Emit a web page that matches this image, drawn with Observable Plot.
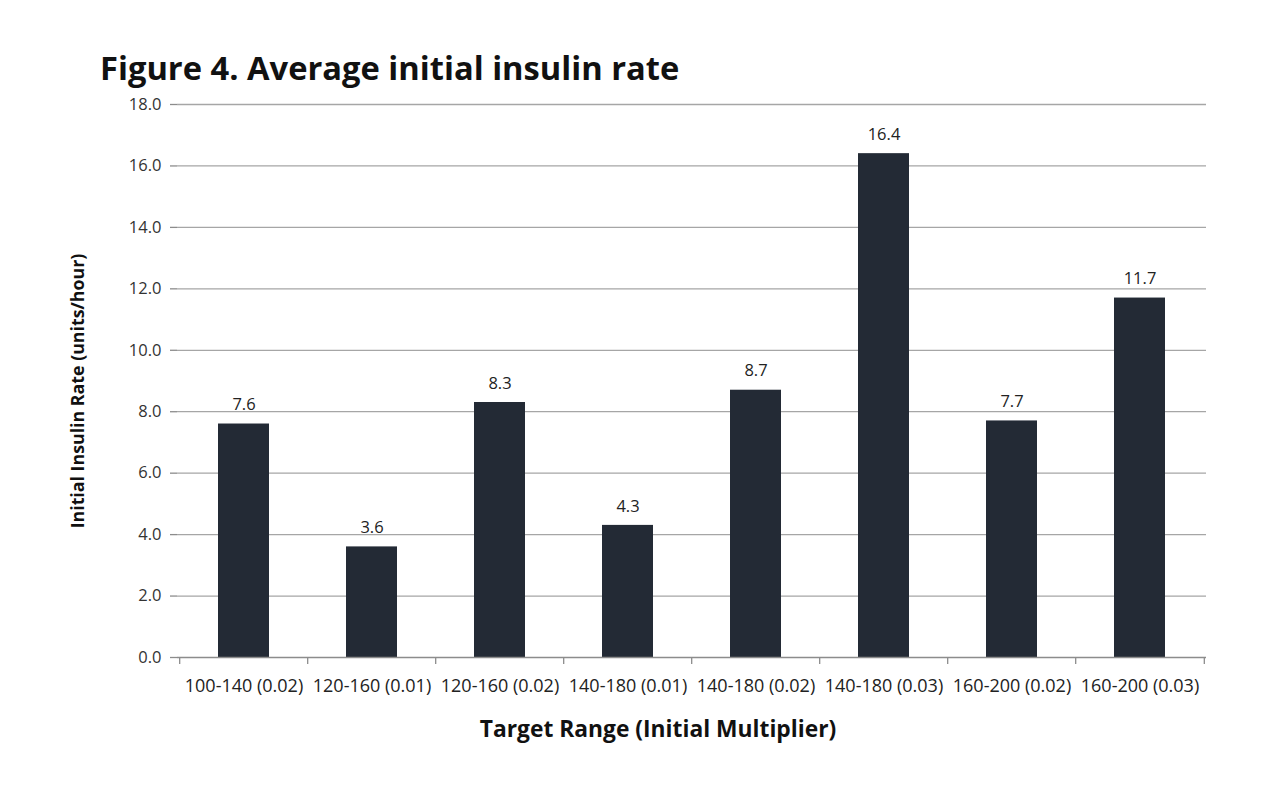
<!DOCTYPE html>
<html>
<head>
<meta charset="utf-8">
<script src="https://cdn.jsdelivr.net/npm/d3@7"></script>
<script src="https://cdn.jsdelivr.net/npm/@observablehq/plot@0.6"></script>
<style>
  body { margin: 0; background: #fff; font-family: "Open Sans", sans-serif; }
  #title { height: 85px; position: relative; }
  #title span { position: absolute; left: 100px; top: 45px; font-size: 32.7px; font-weight: bold; color: #111; white-space: nowrap; }
  svg { display: block; }
</style>
</head>
<body>
<div id="title"><span>Figure 4. Average initial insulin rate</span></div>
<div id="chart"></div>
<script>
const categories = ["100-140 (0.02)", "120-160 (0.01)", "120-160 (0.02)", "140-180 (0.01)", "140-180 (0.02)", "140-180 (0.03)", "160-200 (0.02)", "160-200 (0.03)"];
const values = [7.6, 3.6, 8.3, 4.3, 8.7, 16.4, 7.7, 11.7];
const yTicks = [0, 2, 4, 6, 8, 10, 12, 14, 16, 18];
const yLabel = "Initial Insulin Rate (units/hour)";
const xLabel = "Target Range (Initial Multiplier)";

const data = categories.map((c, i) => ({category: c, value: values[i]}));

const W = 1266, H = 714;
const mL = 177, mR = 60, mT = 19, mB = 142;
const step = (W - mL - mR) / categories.length;
const axisColor = "#8c8c8c";

const chart = Plot.plot({
  width: W, height: H,
  marginLeft: mL, marginRight: mR, marginTop: mT, marginBottom: mB,
  style: {fontFamily: "'Open Sans', sans-serif", background: "#fff"},
  x: {domain: categories, paddingInner: 0.6, paddingOuter: 0.3, axis: null},
  y: {domain: [0, 18], axis: null},
  marks: [
    Plot.gridY(yTicks.slice(1), {stroke: "#a6a6a6", strokeOpacity: 1, strokeWidth: 1.3}),
    Plot.barY(data, {x: "category", y: "value", fill: "#232a35"}),
    Plot.text(data, {x: "category", y: "value", text: d => d.value.toFixed(1), dy: -19, fontSize: 16.5, fill: "#222"}),
    Plot.ruleY([0], {stroke: axisColor, strokeWidth: 1.3}),
    Plot.ruleX([0], {frameAnchor: "left", stroke: axisColor, strokeWidth: 1.3}),
    Plot.axisY(yTicks, {tickSize: 7, tickFormat: d => d.toFixed(1), fontSize: 16.5, tickPadding: 9, stroke: axisColor, fill: "#333", strokeWidth: 1.3, label: null}),
    Plot.ruleX(categories, {x: d => d, dx: -step / 2, y1: 0, y2: -0.23, stroke: axisColor, strokeWidth: 1.3}),
    Plot.ruleX(categories.slice(-1), {x: d => d, dx: step / 2, y1: 0, y2: -0.23, stroke: axisColor, strokeWidth: 1.3}),
    Plot.axisX({tickSize: 0, tickPadding: 22, fontSize: 18, fill: "#222", label: null}),
    Plot.text([xLabel], {frameAnchor: "bottom", dx: -34, dy: 79, fontSize: 22.8, fontWeight: "bold", fill: "#111"}),
    Plot.text([yLabel], {frameAnchor: "left", textAnchor: "middle", rotate: -90, dx: -99, dy: 10, fontSize: 17.8, fontWeight: "bold", fill: "#111"})
  ]
});
document.getElementById("chart").appendChild(chart);
</script>
</body>
</html>
